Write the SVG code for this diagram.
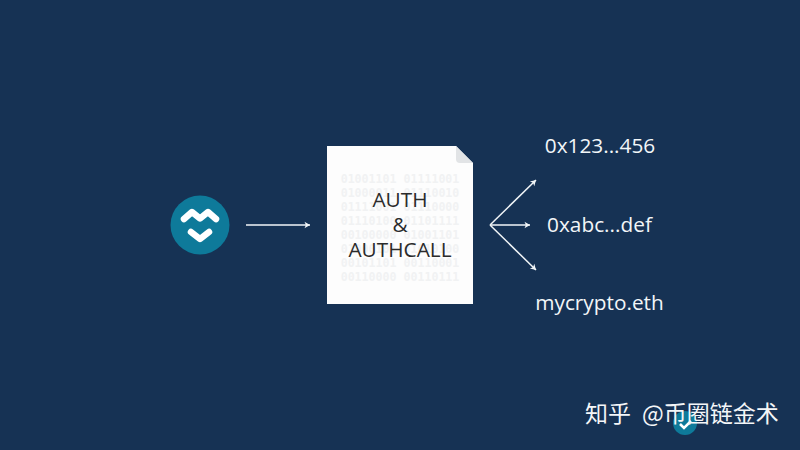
<svg xmlns="http://www.w3.org/2000/svg" width="800" height="450" viewBox="0 0 800 450">
<style>
.t{font-family:"Open Sans","Noto Sans",sans-serif;}
.lbl{font-size:20.8px;fill:#f2f6f8;text-anchor:middle;}
.doc{font-size:20.8px;fill:#2b2b2b;text-anchor:middle;}
.bin{font-family:"DejaVu Sans Mono","Liberation Mono",monospace;font-weight:bold;font-size:11.6px;fill:#f1f2f3;text-anchor:middle;}
.ln{stroke:#f2f6f8;stroke-width:1.5;fill:none;marker-end:url(#a);}
.wm{font-family:"Noto Sans CJK SC","Noto Sans",sans-serif;font-size:23px;fill:#f4f6f8;}
.ic{fill:none;stroke:#fff;stroke-width:6.500;stroke-linecap:round;stroke-linejoin:round;}
</style>
<defs>
<marker id="a" markerUnits="userSpaceOnUse" markerWidth="10" markerHeight="10" refX="6.5" refY="4" orient="auto">
<path d="M1,0.8 L6.5,4 L1,7.2 L2.4,4 Z" fill="#f2f6f8"/>
</marker>
</defs>
<rect width="800" height="450" fill="#163254"/>
<g id="wallet">
<circle cx="200" cy="225" r="29.5" fill="#0e7a9a"/>
<path class="ic" d="M184,219 L192,212 L200,218.500 L208,212 L216,219"/>
<path class="ic" d="M191,232 L200,239 L209,232"/>
</g>
<g id="document">
<path d="M327,146 H456 L473,163 V304 H327 Z" fill="#fdfdfd"/>
<path d="M456,146 L473,163 H460 Q456,163 456,159 Z" fill="#e2e4e6"/>
<g class="bin">
<text x="400" y="183">01001101 01111001</text>
<text x="400" y="197">01000011 01110010</text>
<text x="400" y="211">01111001 01110000</text>
<text x="400" y="225">01110100 01101111</text>
<text x="400" y="239">00100000 01001101</text>
<text x="400" y="253">01000101 01010100</text>
<text x="400" y="267">00101101 00110001</text>
<text x="400" y="281">00110000 00110111</text>
</g>
<text class="t doc" x="400" y="207">AUTH</text>
<text class="t doc" x="400" y="232">&amp;</text>
<text class="t doc" x="400" y="257">AUTHCALL</text>
</g>
<g id="connectors">
<line class="ln" x1="246" y1="225" x2="310" y2="225"/>
<line class="ln" x1="490" y1="225" x2="536" y2="180"/>
<line class="ln" x1="490" y1="225" x2="530" y2="225"/>
<line class="ln" x1="490" y1="225" x2="536" y2="270"/>
</g>
<g id="addr1"><text class="t lbl" x="600" y="152.500">0x123...456</text></g>
<g id="addr2"><text class="t lbl" x="599.500" y="232">0xabc...def</text></g>
<g id="addr3"><text class="t lbl" x="599.500" y="310">mycrypto.eth</text></g>
<g id="watermark">
<circle cx="685" cy="423" r="12" fill="#0e7a9a"/>
<path d="M680,424 L684,428 L691,421" fill="none" stroke="#fff" stroke-width="2.500"/>
<text class="wm" x="585" y="422">知乎</text>
<text class="wm" x="642" y="422">@币圈链金术</text>
</g>
</svg>
